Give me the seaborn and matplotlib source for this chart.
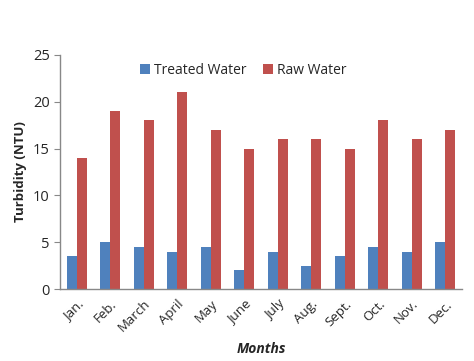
import pandas as pd
import seaborn as sns
import matplotlib.pyplot as plt

#monthly turbidity readings
months = ['Jan.', 'Feb.', 'March', 'April', 'May', 'June', 'July', 'Aug.', 'Sept.', 'Oct.', 'Nov.', 'Dec.']
treated = [3.5, 5, 4.5, 4, 4.5, 2, 4, 2.5, 3.5, 4.5, 4, 5]
raw = [14, 19, 18, 21, 17, 15, 16, 16, 15, 18, 16, 17]

df = pd.DataFrame({'Month': months * 2,
                   'Turbidity': treated + raw,
                   'Type': ['Treated Water'] * 12 + ['Raw Water'] * 12})

sns.set_style('white')
plt.rcParams['font.family'] = ['Open Sans', 'DejaVu Sans']

fig = plt.figure(figsize=(4.74, 3.61), dpi=100)
ax = fig.add_axes([0.127, 0.199, 0.848, 0.649])

sns.barplot(data=df, x='Month', y='Turbidity', hue='Type',
            palette=['#4F81BD', '#C0504D'], saturation=1, width=0.6,
            linewidth=0, ax=ax)

ax.set_ylim(0, 25)
ax.set_yticks([0, 5, 10, 15, 20, 25])
ax.set_xlim(-0.5, 11.5)
ax.tick_params(axis='y', labelsize=10.5, length=4, color='#888888', direction='out', left=True)
ax.tick_params(axis='x', labelsize=9.5, length=0, pad=6)
plt.setp(ax.get_xticklabels(), rotation=45, ha='right', rotation_mode='anchor')

ax.set_ylabel('Turbidity (NTU)', fontsize=9.5, fontweight='bold')
ax.set_xlabel('Months', fontsize=10, fontweight='bold', fontstyle='italic', labelpad=5)

for side in ['top', 'right']:
    ax.spines[side].set_visible(False)
for side in ['left', 'bottom']:
    ax.spines[side].set_color('#888888')
    ax.spines[side].set_linewidth(1)

ax.legend(loc='upper center', bbox_to_anchor=(0.455, 0.99), ncol=2, frameon=False,
          fontsize=10, handlelength=0.7, handleheight=0.7, handletextpad=0.3, columnspacing=1.2,
          borderaxespad=0)

fig.savefig('out.png', dpi=100)
